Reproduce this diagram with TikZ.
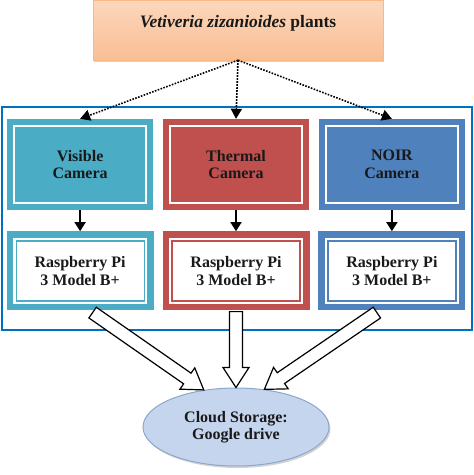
\documentclass[tikz,border=0pt]{standalone}
\usepackage{fontspec}
\setmainfont{Liberation Serif}
\usetikzlibrary{arrows.meta, positioning, shapes.geometric, shadows, calc}

\definecolor{visblue}{HTML}{4BACC6}
\definecolor{thermred}{HTML}{C0504D}
\definecolor{noirblue}{HTML}{4F81BD}
\definecolor{frameblue}{HTML}{0070C0}
\definecolor{cloudfill}{HTML}{C6D5EE}
\definecolor{cloudline}{HTML}{8CA7CC}
\definecolor{peachtop}{HTML}{FCD7BC}
\definecolor{peachmid}{HTML}{FDEBDF}
\definecolor{peachbot}{HTML}{F9BE93}

% hollow block arrow from #1 (tail) to #2 (tip)
\newcommand{\hollowarrow}[2]{%
  \coordinate (ha) at ($(#2)!20pt!(#1)$);
  \draw[blockarr] ($(#1)!6.5pt!90:(#2)$) -- ($(ha)!6.5pt!90:(#2)$) -- ($(ha)!13pt!90:(#2)$)
    -- (#2) -- ($(ha)!13pt!-90:(#2)$) -- ($(ha)!6.5pt!-90:(#2)$) -- ($(#1)!6.5pt!-90:(#2)$) -- cycle;
}

\begin{document}
\begin{tikzpicture}[
    x=1pt, y=-1pt,
    node distance=21pt and 9.5pt,
    every node/.style={font=\fontsize{16}{17.5}\selectfont\bfseries, text=black!90},
    plantbox/.style={draw=peachbot!90!orange, top color=peachtop, middle color=peachmid, bottom color=peachbot,
        minimum width=290pt, inner ysep=10pt, text height=17pt, text depth=23pt,
        font=\fontsize{17.5}{19}\selectfont\bfseries,
        drop shadow={shadow xshift=1pt, shadow yshift=-1.5pt, fill=gray!70}},
    camera/.style={fill=#1, minimum width=146pt, minimum height=91pt, align=center,
        path picture={\draw[white, line width=2pt] ([shift={(7pt,-7pt)}]path picture bounding box.north west)
            rectangle ([shift={(-7pt,7pt)}]path picture bounding box.south east);}},
    board/.style={fill=#1, minimum width=147pt, minimum height=79pt, align=center,
        path picture={\fill[white] ([shift={(6.5pt,-6.5pt)}]path picture bounding box.north west)
            rectangle ([shift={(-6.5pt,6.5pt)}]path picture bounding box.south east);
          \draw[#1, line width=1.2pt] ([shift={(9.5pt,-9.5pt)}]path picture bounding box.north west)
            rectangle ([shift={(-9.5pt,9.5pt)}]path picture bounding box.south east);}},
    frame/.style={draw=frameblue, line width=1.5pt, minimum width=470pt, minimum height=223pt},
    cloud/.style={ellipse, fill=cloudfill, draw=cloudline, line width=1pt, minimum width=186pt,
        minimum height=78pt, align=center, inner sep=0pt,
        drop shadow={shadow xshift=1.5pt, shadow yshift=-2pt, fill=gray!70}},
    dotarr/.style={-{Triangle[length=10pt, width=11pt]}, line width=1.6pt, dash pattern=on 1.6pt off 1.4pt},
    arr/.style={-{Triangle[length=9pt, width=11pt]}, line width=1.5pt},
    blockarr/.style={draw=black, fill=white, line width=1.2pt, line join=miter},
]
    \useasboundingbox (0,0) rectangle (474,475);

    % source
    \node[plantbox] (plants) at (238,30) {\textit{Vetiveria zizanioides} plants};

    % sensing and processing units
    \node[frame] (frame) at (237,218.5) {};
    \node[camera=thermred] (camt) at (236,164.5) {Thermal\\Camera};
    \node[camera=visblue, left=of camt] (camv) {Visible\\Camera};
    \node[camera=noirblue, right=of camt] (camn) {NOIR\\Camera};
    \node[board=thermred, below=of camt] (rpit) {Raspberry Pi\\3 Model B+};
    \node[board=visblue, below=of camv] (rpiv) {Raspberry Pi\\3 Model B+};
    \node[board=noirblue, below=of camn] (rpin) {Raspberry Pi\\3 Model B+};

    % storage
    \node[cloud] (cloud) at (236,427) {Cloud Storage:\\Google drive};

    % arrows
    \draw[dotarr] (plants.south) -- (camv.north);
    \draw[dotarr] (plants.south) -- (camt.north);
    \draw[dotarr] (plants.south) -- (camn.north);
    \draw[arr] (camv) -- (rpiv);
    \draw[arr] (camt) -- (rpit);
    \draw[arr] (camn) -- (rpin);

    \coordinate (tailv) at ([xshift=12.5pt, yshift=-2pt]rpiv.south);
    \coordinate (tailt) at ([yshift=-1pt]rpit.south);
    \coordinate (tailn) at ([xshift=-15pt, yshift=-2pt]rpin.south);
    \hollowarrow{tailv}{cloud.131}
    \hollowarrow{tailt}{cloud.north}
    \hollowarrow{tailn}{cloud.53}
\end{tikzpicture}
\end{document}
